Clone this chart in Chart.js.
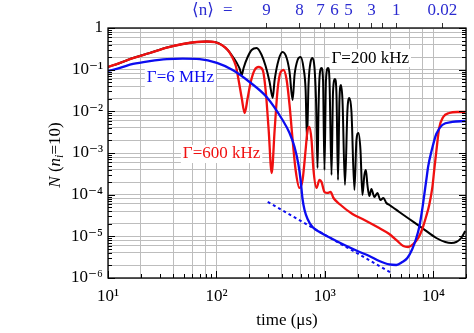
<!DOCTYPE html>
<html>
<head>
<meta charset="utf-8">
<script src="https://cdn.jsdelivr.net/npm/chart.js@4.4.1/dist/chart.umd.min.js"></script>
<style>
    html, body { margin: 0; padding: 0; background: #fff; }
    canvas { display: block; }
</style>
</head>
<body>
<canvas id="decay-chart" width="474" height="333"></canvas>
<script>
// 时间 (μs) 与粒子数 N，三种 Γ
const blackTime = [10, 12.9, 17.0, 24.3, 34.9, 49.0, 65.9, 81.5, 96.4, 112,
    127, 138, 154, 164, 171, 178, 194, 211, 235, 261,
    284, 309, 330, 344, 374, 407, 444, 472, 504, 525,
    560, 597, 635, 664, 684, 706, 738, 769, 802, 828,
    855, 873, 891, 931, 961, 991, 1023, 1069, 1102, 1151,
    1188, 1239, 1279, 1321, 1362, 1406, 1452, 1531, 1614, 1683,
    1758, 1871, 1954, 2037, 2128, 2218, 2312, 2388, 2466, 2570,
    2685, 2858, 3048, 3251, 3459, 3690, 3926, 4188, 4853, 6000,
    7907, 10640, 12880, 14620, 16250, 18070, 19680];
const blackN = [0.116, 0.145, 0.19, 0.251, 0.340, 0.413, 0.461, 0.474, 0.461, 0.391,
    0.296, 0.225, 0.145, 0.104, 0.0745, 0.110, 0.201, 0.296, 0.331, 0.225,
    0.122, 0.0506, 0.0209, 0.0565, 0.171, 0.265, 0.19, 0.0879, 0.0187, 0.0745,
    0.171, 0.201, 0.110, 0.0325, 0.00205, 0.0429, 0.153, 0.19, 0.110, 0.0187,
    4.37e-4, 0.0108, 0.0631, 0.110, 0.0565, 3.91e-4, 0.0565, 0.110, 0.0565, 2.96e-4,
    0.0291, 0.0597, 0.0247, 2.25e-4, 0.0187, 0.0429, 0.0187, 1.71e-4, 0.0108, 0.0209,
    0.00964, 1.29e-4, 0.00205, 0.00302, 0.00118, 9.82e-5, 2.96e-4, 3.91e-4, 1.71e-4, 9.29e-5,
    1.37e-4, 8.79e-5, 1.10e-4, 7.45e-5, 8.32e-5, 6.31e-5, 5.65e-5, 5.06e-5, 3.84e-5, 2.61e-5,
    1.58e-5, 9.12e-6, 7.31e-6, 6.92e-6, 7.31e-6, 9.12e-6, 1.34e-5];

const redTime = [10, 12.9, 17.0, 24.3, 34.9, 49.0, 65.9, 81.5, 96.4, 112,
    127, 138, 151, 160, 171, 182, 194, 207, 225, 245,
    267, 284, 303, 323, 344, 366, 391, 416, 444, 472,
    504, 537, 583, 622, 664, 692, 721, 753, 785, 836,
    891, 931, 991, 1057, 1127, 1200, 1362, 1795, 2312, 3048,
    3926, 4656, 5284, 5875, 6531, 7261, 7907, 8610, 9162, 9772,
    10190, 10640, 11320, 12330, 14000, 16600, 19680];
const redN = [0.116, 0.145, 0.19, 0.251, 0.340, 0.413, 0.461, 0.474, 0.461, 0.391,
    0.296, 0.213, 0.122, 0.0565, 0.0209, 0.00912, 0.0209, 0.0506, 0.0982, 0.116,
    0.0982, 0.0325, 0.00356, 3.31e-4, 0.00356, 0.0325, 0.0879, 0.0982, 0.0565, 0.0142,
    0.00205, 3.91e-4, 1.45e-4, 2.25e-4, 0.00118, 0.00356, 0.00421, 0.00205, 3.91e-4, 1.45e-4,
    2.25e-4, 2.01e-4, 1.16e-4, 1.10e-4, 1.16e-4, 8.32e-5, 5.97e-5, 3.44e-5, 2.47e-5, 1.67e-5,
    1.14e-5, 7.73e-6, 5.86e-6, 5.55e-6, 6.55e-6, 9.12e-6, 1.50e-5, 3.08e-5, 5.65e-5, 1.45e-4,
    3.91e-4, 0.00106, 0.00398, 0.00731, 0.00912, 0.00964, 0.00964];

const blueTime = [10, 12.9, 17.0, 24.3, 34.9, 49.0, 70.2, 101, 141, 202,
    290, 407, 472, 525, 571, 597, 622, 649, 692, 769,
    891, 1175, 1514, 1995, 2570, 3177, 3926, 4560, 5176, 5754,
    6397, 6966, 7413, 7907, 8241, 8610, 8974, 9572, 10640, 12080,
    14930, 19680];
const blueN = [0.0929, 0.110, 0.137, 0.161, 0.180, 0.185, 0.180, 0.145, 0.0982, 0.0506,
    0.0221, 0.00619, 0.00302, 0.00139, 5.15e-4, 2.25e-4, 7.87e-5, 4.29e-5, 2.61e-5, 1.67e-5,
    1.27e-5, 8.63e-6, 6.19e-6, 4.45e-6, 3.37e-6, 2.56e-6, 2.11e-6, 2.05e-6, 2.42e-6, 3.02e-6,
    4.97e-6, 9.12e-6, 1.67e-5, 4.53e-5, 9.82e-5, 2.25e-4, 4.88e-4, 0.00106, 0.00286, 0.0047,
    0.00555, 0.00586];

// 蓝色虚线（幂律参考线）
const slopeTime = [297, 4100];
const slopeN = [6.7e-5, 1.32e-6];

// 顶部 <n> 刻度
const nHeadTimes = [75, 127];
const nHeadLabels = ['⟨n⟩', '='];
const nTickTimes = [290, 583, 912, 1225, 1648, 2080, 2685, 3390, 4560, 12080];
const nTickLabels = ['9', '8', '7', '6', '5', '', '3', '', '1', '0.02'];

const X_MIN = 10, X_MAX = 2e4, Y_MIN = 1e-6, Y_MAX = 1;

const colors = {
    black: '#000000',
    red: '#f01010',
    blue: '#0c0cf0',
    nText: '#2b2bd0',
    grid: '#bdbdbd'
};
const SERIF = "'Liberation Serif', 'DejaVu Serif', 'Times New Roman', serif";

const SUP = { '-': '⁻', '0': '⁰', '1': '¹', '2': '²', '3': '³', '4': '⁴', '5': '⁵', '6': '⁶', '7': '⁷', '8': '⁸', '9': '⁹' };

function toPoints(xs, ys) {
    return xs.map((x, i) => ({ x: x, y: ys[i] }));
}

// 每个十倍程 1..9 的刻度
function decadeTicks(min, max) {
    const ticks = [];
    for (let e = Math.floor(Math.log10(min)); e <= Math.ceil(Math.log10(max)); e++) {
        for (let m = 1; m <= 9; m++) {
            const v = m * Math.pow(10, e);
            if (v >= min * 0.999 && v <= max * 1.001) ticks.push({ value: v, major: m === 1 });
        }
    }
    return ticks;
}

function mantissa(v) {
    return Math.round(v / Math.pow(10, Math.floor(Math.log10(v) + 1e-9)));
}

function powLabel(v) {
    const lg = Math.log10(v);
    const e = Math.round(lg);
    if (Math.abs(lg - e) > 1e-6) return '';
    if (e === 0) return '1';
    return '10' + String(e).split('').map(c => SUP[c]).join('');
}

function gridColor(ctx) {
    if (!ctx.tick) return 'rgba(0,0,0,0)';
    return [1, 2, 4, 6, 8].includes(mantissa(ctx.tick.value)) ? colors.grid : 'rgba(0,0,0,0)';
}

// 文字标注
const notes = [
    { text: 'Γ=200 kHz', t: 1151, n: 0.19, color: colors.black },
    { text: 'Γ=6 MHz', t: 22.8, n: 0.063, color: colors.blue },
    { text: 'Γ=600 kHz', t: 49, n: 9.46e-4, color: colors.red }
];

// 边框、内刻度、标注和纵轴标题
const framePlugin = {
    id: 'frame',
    afterDatasetsDraw(chart) {
        const { ctx, chartArea: a, scales } = chart;
        const xs = scales.x, ys = scales.y;
        ctx.save();
        ctx.strokeStyle = '#000';
        ctx.lineWidth = 1;
        xs.ticks.forEach(t => {
            const px = Math.round(xs.getPixelForValue(t.value)) + 0.5;
            const len = mantissa(t.value) === 1 ? 7 : 4;
            ctx.beginPath();
            ctx.moveTo(px, a.bottom);
            ctx.lineTo(px, a.bottom - len);
            ctx.stroke();
        });
        ys.ticks.forEach(t => {
            const py = Math.round(ys.getPixelForValue(t.value)) + 0.5;
            const len = mantissa(t.value) === 1 ? 7 : 4;
            ctx.beginPath();
            ctx.moveTo(a.left, py);
            ctx.lineTo(a.left + len, py);
            ctx.moveTo(a.right, py);
            ctx.lineTo(a.right - len, py);
            ctx.stroke();
        });
        ctx.lineWidth = 1.3;
        ctx.strokeRect(a.left, a.top, a.right - a.left, a.bottom - a.top);

        ctx.font = '17px ' + SERIF;
        ctx.textAlign = 'left';
        ctx.textBaseline = 'middle';
        notes.forEach(nt => {
            const px = xs.getPixelForValue(nt.t);
            const py = ys.getPixelForValue(nt.n);
            ctx.fillStyle = '#fff';
            const w = ctx.measureText(nt.text).width;
            ctx.fillRect(px - 2, py - 9, w + 4, 18);
            ctx.fillStyle = nt.color;
            ctx.fillText(nt.text, px, py);
        });

        // N (n_i=10)
        const parts = [
            { s: 'N', font: 'italic 17px ' + SERIF, dy: 0 },
            { s: ' (', font: '17px ' + SERIF, dy: 0 },
            { s: 'n', font: 'italic 17px ' + SERIF, dy: 0 },
            { s: 'i', font: 'italic 12px ' + SERIF, dy: 4 },
            { s: '=10)', font: '17px ' + SERIF, dy: 0 }
        ];
        let total = 0;
        parts.forEach(p => { ctx.font = p.font; p.w = ctx.measureText(p.s).width; total += p.w; });
        ctx.translate(56, (a.top + a.bottom) / 2 + 2);
        ctx.rotate(-Math.PI / 2);
        ctx.fillStyle = '#000';
        ctx.textBaseline = 'middle';
        let cx = -total / 2;
        parts.forEach(p => {
            ctx.font = p.font;
            ctx.fillText(p.s, cx, p.dy);
            cx += p.w;
        });
        ctx.restore();
    }
};

const lineStyle = {
    showLine: true,
    pointRadius: 0,
    borderWidth: 2.3,
    cubicInterpolationMode: 'monotone',
    fill: false
};

new Chart(document.getElementById('decay-chart').getContext('2d'), {
    type: 'scatter',
    data: {
        datasets: [
            Object.assign({}, lineStyle, {
                label: 'slope',
                data: toPoints(slopeTime, slopeN),
                borderColor: colors.blue,
                borderWidth: 2,
                borderDash: [3, 3],
                cubicInterpolationMode: 'default',
                tension: 0
            }),
            Object.assign({}, lineStyle, { label: 'Γ=6 MHz', data: toPoints(blueTime, blueN), borderColor: colors.blue }),
            Object.assign({}, lineStyle, { label: 'Γ=600 kHz', data: toPoints(redTime, redN), borderColor: colors.red }),
            Object.assign({}, lineStyle, { label: 'Γ=200 kHz', data: toPoints(blackTime, blackN), borderColor: colors.black, borderWidth: 2 })
        ]
    },
    options: {
        responsive: false,
        animation: false,
        layout: { padding: { left: 0, right: 8, top: 0, bottom: 0 } },
        plugins: {
            legend: { display: false },
            tooltip: { enabled: false }
        },
        scales: {
            x: {
                type: 'logarithmic',
                position: 'bottom',
                min: X_MIN,
                max: X_MAX,
                bounds: 'data',
                afterBuildTicks: s => { s.ticks = decadeTicks(X_MIN, X_MAX); },
                afterFit: s => { s.height = 55; },
                border: { display: false },
                grid: { color: gridColor, lineWidth: 1, drawTicks: false },
                ticks: {
                    autoSkip: false,
                    maxRotation: 0,
                    minRotation: 0,
                    padding: 8,
                    color: '#000',
                    font: { family: SERIF, size: 17 },
                    callback: v => powLabel(v)
                },
                title: {
                    display: true,
                    text: 'time (μs)',
                    color: '#000',
                    font: { family: SERIF, size: 17 },
                    padding: { top: 0, bottom: 2 }
                }
            },
            x2: {
                type: 'logarithmic',
                position: 'top',
                min: X_MIN,
                max: X_MAX,
                bounds: 'data',
                afterBuildTicks: s => {
                    s.ticks = nHeadTimes.concat(nTickTimes).map(v => ({ value: v }));
                },
                afterFit: s => { s.height = 28; },
                border: { display: false },
                grid: {
                    display: true,
                    drawOnChartArea: false,
                    drawTicks: true,
                    tickLength: 5,
                    tickColor: ctx => (ctx.index < nHeadTimes.length ? 'rgba(0,0,0,0)' : '#333')
                },
                ticks: {
                    autoSkip: false,
                    maxRotation: 0,
                    minRotation: 0,
                    padding: 2,
                    color: colors.nText,
                    font: { family: SERIF, size: 17 },
                    callback: (v, i) => nHeadLabels.concat(nTickLabels)[i]
                }
            },
            y: {
                type: 'logarithmic',
                position: 'left',
                min: Y_MIN,
                max: Y_MAX,
                bounds: 'data',
                afterBuildTicks: s => { s.ticks = decadeTicks(Y_MIN, Y_MAX); },
                afterFit: s => { s.width = 108; },
                border: { display: false },
                grid: { color: gridColor, lineWidth: 1, drawTicks: false },
                ticks: {
                    autoSkip: false,
                    padding: 5,
                    color: '#000',
                    font: { family: SERIF, size: 17 },
                    callback: v => powLabel(v)
                }
            }
        }
    },
    plugins: [framePlugin]
});
</script>
</body>
</html>
